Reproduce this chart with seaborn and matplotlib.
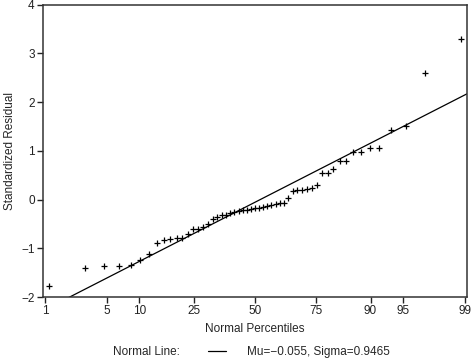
"""
Normal probability plot of standardized residuals
"""
from statistics import NormalDist
import numpy as np
import matplotlib
matplotlib.use("Agg")
import matplotlib.pyplot as plt
from matplotlib.lines import Line2D
import seaborn as sns

sns.set_style("white")
plt.rcParams["font.family"] = ["Liberation Sans", "DejaVu Sans"]

# ── data ────────────────────────────────────────────────────────────────
residuals = [
    -1.78, -1.41, -1.37, -1.36, -1.34, -1.24, -1.11, -0.90, -0.83, -0.81,
    -0.79, -0.79, -0.71, -0.61, -0.60, -0.56, -0.50, -0.39, -0.36, -0.32,
    -0.32, -0.28, -0.25, -0.23, -0.21, -0.21, -0.20, -0.18, -0.17, -0.15,
    -0.14, -0.12, -0.09, -0.08, -0.07, 0.04, 0.18, 0.19, 0.20, 0.22,
    0.24, 0.29, 0.55, 0.55, 0.62, 0.80, 0.80, 0.97, 0.98, 1.05,
    1.06, 1.42, 1.50, 2.59, 3.29,
]
mu, sigma = -0.055, 0.9465
pct_ticks = [1, 5, 10, 25, 50, 75, 90, 95, 99]
y_ticks = [-2, -1, 0, 1, 2, 3, 4]

nd = NormalDist()
n = len(residuals)
res = np.sort(residuals)
z = np.array([nd.inv_cdf((i - 0.375) / (n + 0.25)) for i in range(1, n + 1)])
tick_pos = [nd.inv_cdf(p / 100) for p in pct_ticks]

# ── figure ──────────────────────────────────────────────────────────────
fig = plt.figure(figsize=(4.74, 3.6), dpi=100)
ax = fig.add_axes([0.091, 0.175, 0.894, 0.812])

xlim = (-2.35, 2.35)
zline = np.array(xlim)
sns.lineplot(x=zline, y=mu + sigma * zline, ax=ax, color="black", linewidth=0.9)
sns.scatterplot(x=z, y=res, ax=ax, marker="+", s=22, color="black", linewidth=0.9)

ax.set_xlim(xlim)
ax.set_ylim(-2, 4)
ax.set_xticks(tick_pos)
ax.set_xticklabels([str(p) for p in pct_ticks])
ax.set_yticks(y_ticks)
ax.tick_params(axis="both", direction="out", length=4, width=1, colors="#222222",
               labelsize=8.5, pad=2, bottom=True, left=True)
for s in ax.spines.values():
    s.set_color("#333333")
    s.set_linewidth(1.1)

ax.set_xlabel("Normal Percentiles", fontsize=8.5, labelpad=4)
ax.set_ylabel("Standardized Residual", fontsize=8.5, labelpad=4)

# legend row at the bottom
fig.text(113 / 474, 1 - 352 / 360, "Normal Line:", fontsize=8.5, va="center", ha="left")
fig.add_artist(Line2D([208 / 474, 226 / 474], [1 - 351 / 360] * 2,
                      color="black", linewidth=0.9, transform=fig.transFigure))
fig.text(247 / 474, 1 - 352 / 360, "Mu=\u22120.055, Sigma=0.9465", fontsize=8.5,
         va="center", ha="left")

fig.savefig("out.png", dpi=100)
plt.close(fig)
